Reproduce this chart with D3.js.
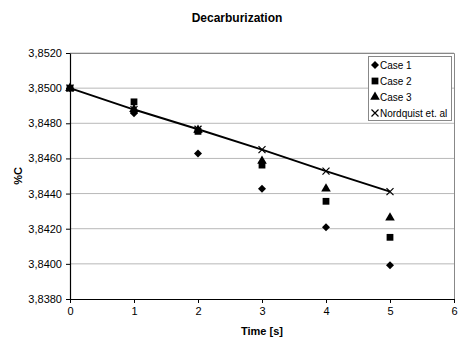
<!DOCTYPE html>
<html>
<head>
<meta charset="utf-8">
<script src="https://cdn.jsdelivr.net/npm/d3@7"></script>
<style>
  body { margin: 0; background: #fff; }
  text { font-family: "Liberation Sans", Arial, sans-serif; }
</style>
</head>
<body>
<svg id="chart" width="474" height="351"></svg>
<script>
var times = [0, 1, 2, 3, 4, 5];
var case1 = [3.8500, 3.84857, 3.84628, 3.84428, 3.84208, 3.83992];
var case2 = [3.8500, 3.84922, 3.84754, 3.84562, 3.84356, 3.84151];
var case3 = [3.8500, 3.84880, 3.84762, 3.84585, 3.84427, 3.84262];
var nordquist = [3.8500, 3.84878, 3.84766, 3.84650, 3.84528, 3.84411];
var xTicks = [0, 1, 2, 3, 4, 5, 6];
var yTicks = [3.838, 3.840, 3.842, 3.844, 3.846, 3.848, 3.850, 3.852];
var seriesNames = ["Case 1", "Case 2", "Case 3", "Nordquist et. al"];

var svg = d3.select("#chart"),
    margin = {top: 53, right: 20, bottom: 52, left: 70},
    width = 474 - margin.left - margin.right,
    height = 351 - margin.top - margin.bottom;

var x = d3.scaleLinear().domain([0, 6]).range([0, width]);
var y = d3.scaleLinear().domain([3.838, 3.852]).range([height, 0]);

var g = svg.append("g").attr("transform", "translate(" + margin.left + "," + margin.top + ")");

// gridlines
g.selectAll(".grid")
  .data(yTicks.slice(1))
  .enter().append("line")
  .attr("x1", 0).attr("x2", width)
  .attr("y1", d => y(d)).attr("y2", d => y(d))
  .attr("stroke", "#b8b8b8").attr("stroke-width", 1);

// plot frame (top / right)
g.append("path")
  .attr("d", "M0,0.5H" + (width + 0.5) + "V" + height)
  .attr("fill", "none").attr("stroke", "#888").attr("stroke-width", 1);

var fmt = d => d3.format(".4f")(d).replace(".", ",");

var yAxis = g.append("g")
  .call(d3.axisLeft(y).tickValues(yTicks).tickFormat(fmt).tickSize(4).tickSizeOuter(0));
var xAxis = g.append("g")
  .attr("transform", "translate(0," + height + ")")
  .call(d3.axisBottom(x).tickValues(xTicks).tickFormat(d3.format("d")).tickSize(4).tickSizeOuter(0));
[xAxis, yAxis].forEach(a => {
  a.select(".domain").attr("stroke", "#000").attr("stroke-width", 1.2);
  a.selectAll(".tick line").attr("stroke", "#000");
  a.selectAll(".tick text").attr("font-size", 11).attr("fill", "#000")
   .attr("font-family", "'Liberation Sans', Arial, sans-serif");
});
yAxis.selectAll(".tick text").attr("x", -8);
xAxis.selectAll(".tick text").attr("y", 8);

// Nordquist line
g.append("path")
  .datum(times.map((t, i) => [t, nordquist[i]]))
  .attr("fill", "none").attr("stroke", "#000").attr("stroke-width", 2)
  .attr("d", d3.line().x(d => x(d[0])).y(d => y(d[1])));

function drawMarker(sel, type) {
  if (type === "x") {
    sel.append("path").attr("d", "M-3.5,-3.5L3.5,3.5M-3.5,3.5L3.5,-3.5")
      .attr("stroke", "#000").attr("stroke-width", 1.2).attr("fill", "none");
  } else if (type === "diamond") {
    sel.append("path").attr("d", "M0,-4L4,0L0,4L-4,0Z").attr("fill", "#000");
  } else {
    var sym = type === "square" ? d3.symbolSquare : d3.symbolTriangle;
    var size = type === "square" ? 46 : 40;
    sel.append("path").attr("d", d3.symbol().type(sym).size(size)()).attr("fill", "#000");
  }
}

var series = [
  {name: seriesNames[0], vals: case1, type: "diamond"},
  {name: seriesNames[1], vals: case2, type: "square"},
  {name: seriesNames[2], vals: case3, type: "triangle"},
  {name: seriesNames[3], vals: nordquist, type: "x"}
];

// draw order: triangle, diamond, square, x
[series[2], series[0], series[1], series[3]].forEach(s => {
  s.vals.forEach((v, i) => {
    var m = g.append("g").attr("transform", "translate(" + x(times[i]) + "," + y(v) + ")");
    drawMarker(m, s.type);
  });
});

// legend
var lg = svg.append("g").attr("transform", "translate(368,56)");
lg.append("rect").attr("x", 0.5).attr("y", 0.5).attr("width", 83).attr("height", 64)
  .attr("fill", "#fff").attr("stroke", "#888");
series.forEach((s, i) => {
  var row = lg.append("g").attr("transform", "translate(7," + (9 + i * 16) + ")");
  drawMarker(row.append("g"), s.type);
  row.append("text").attr("x", 5).attr("y", 4).attr("font-size", 10).text(s.name);
});

// titles
svg.append("text").attr("x", 237).attr("y", 22).attr("text-anchor", "middle")
  .attr("font-size", 12).attr("font-weight", "bold").text("Decarburization");
svg.append("text").attr("x", 262).attr("y", 335).attr("text-anchor", "middle")
  .attr("font-size", 11).attr("font-weight", "bold").text("Time [s]");
svg.append("text").attr("transform", "translate(22,176) rotate(-90)").attr("text-anchor", "middle")
  .attr("font-size", 11).attr("font-weight", "bold").text("%C");
</script>
</body>
</html>
